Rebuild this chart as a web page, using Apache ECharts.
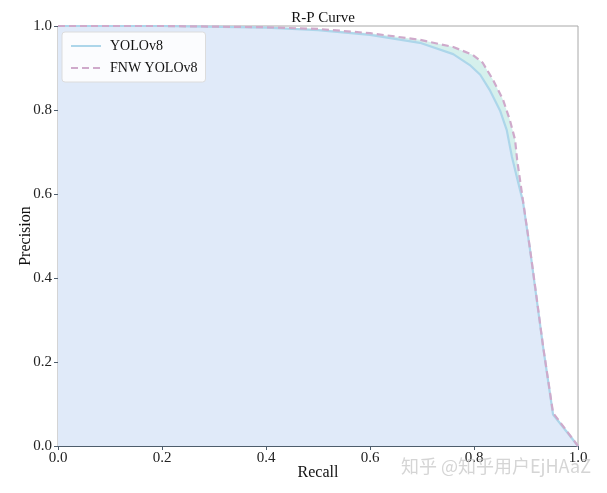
<!DOCTYPE html>
<html>
<head>
<meta charset="utf-8">
<title>R-P Curve</title>
<script src="https://cdn.jsdelivr.net/npm/echarts@6/dist/echarts.min.js"></script>
<style>
	html, body { margin: 0; padding: 0; background: #fff; }
	#chart { width: 607px; height: 493px; }
</style>
</head>
<body>
<div id="chart"></div>
<script>
	// values
	var yoloRecall = [0, 0.2, 0.4, 0.5, 0.6, 0.696, 0.76, 0.792, 0.812, 0.831, 0.85, 0.863, 0.873, 0.884, 0.894, 0.908, 0.921, 0.933, 0.952, 1.0]
	var yoloPrecision = [1, 1, 0.996, 0.99, 0.979, 0.96, 0.933, 0.907, 0.884, 0.846, 0.799, 0.752, 0.688, 0.632, 0.583, 0.465, 0.345, 0.235, 0.075, 0]
	var fnwRecall = [0, 0.2, 0.4, 0.5, 0.6, 0.696, 0.76, 0.798, 0.817, 0.837, 0.856, 0.869, 0.879, 0.883, 0.894, 0.908, 0.921, 0.933, 0.952, 1.0]
	var fnwPrecision = [1, 1, 0.997, 0.993, 0.983, 0.967, 0.95, 0.931, 0.912, 0.871, 0.824, 0.776, 0.729, 0.681, 0.586, 0.467, 0.348, 0.236, 0.079, 0]
	var tickLabels = ['0.0', '0.2', '0.4', '0.6', '0.8', '1.0']

	var serif = 'Liberation Serif'

	function pairs(xs, ys) {
		return xs.map(function (x, i) { return [x, ys[i]] })
	}

	var chart = echarts.init(document.getElementById('chart'))
	chart.setOption({
		animation: false,
		backgroundColor: '#fff',
		title: {
			text: 'R-P Curve',
			left: 318,
			textAlign: 'center',
			top: 6,
			textStyle: { fontFamily: serif, fontSize: 15, fontWeight: 'normal', color: '#111' }
		},
		legend: {
			data: ['YOLOv8', 'FNW YOLOv8'],
			orient: 'vertical',
			left: 62,
			top: 32,
			backgroundColor: 'rgba(255,255,255,0.85)',
			borderColor: '#dcdcdc',
			borderWidth: 1,
			borderRadius: 3,
			padding: [7, 8, 7, 8],
			itemWidth: 30,
			itemHeight: 10,
			itemGap: 8,
			itemStyle: { opacity: 0 },
			textStyle: { fontFamily: serif, fontSize: 14, color: '#111', padding: [0, 0, 0, 4] }
		},
		grid: {
			left: 58,
			right: 29,
			top: 26,
			bottom: 47,
			show: true,
			borderColor: '#a8a8a8',
			borderWidth: 1
		},
		xAxis: {
			type: 'value',
			min: 0,
			max: 1,
			interval: 0.2,
			name: 'Recall',
			nameLocation: 'middle',
			nameGap: 19,
			nameMoveOverlap: false,
			nameTextStyle: { fontFamily: serif, fontSize: 16, color: '#111' },
			axisLine: { lineStyle: { color: '#4e5d6c', width: 1 } },
			axisTick: { show: true, length: 4, lineStyle: { color: '#4e5d6c' } },
			axisLabel: {
				fontFamily: serif, fontSize: 15, color: '#222', margin: 5,
				formatter: function (v) { return tickLabels[Math.round(v * 5)] }
			},
			splitLine: { show: false }
		},
		yAxis: {
			type: 'value',
			min: 0,
			max: 1,
			interval: 0.2,
			name: 'Precision',
			nameLocation: 'middle',
			nameGap: 24,
			nameMoveOverlap: false,
			nameTextStyle: { fontFamily: serif, fontSize: 16, color: '#111' },
			axisLine: { show: true, lineStyle: { color: '#4e5d6c', width: 1 } },
			axisTick: { show: true, length: 4, lineStyle: { color: '#4e5d6c' } },
			axisLabel: {
				fontFamily: serif, fontSize: 15, color: '#222', margin: 6,
				formatter: function (v) { return tickLabels[Math.round(v * 5)] }
			},
			splitLine: { show: false }
		},
		graphic: [{
			type: 'text',
			right: 16,
			bottom: 18,
			z: 100,
			style: {
				text: '知乎 @知乎用户EjHAaZ',
				font: '18px "Noto Sans CJK SC"',
				fill: 'rgba(195,195,195,0.7)'
			}
		}],
		series: [
			{
				name: 'fnwArea',
				type: 'line',
				data: pairs(fnwRecall, fnwPrecision),
				symbol: 'none',
				lineStyle: { width: 0 },
				areaStyle: { color: '#d5f0ec', opacity: 1 },
				z: 1,
				silent: true
			},
			{
				name: 'yoloArea',
				type: 'line',
				data: pairs(yoloRecall, yoloPrecision),
				symbol: 'none',
				lineStyle: { width: 0 },
				areaStyle: { color: '#e0eaf9', opacity: 1 },
				z: 2,
				silent: true
			},
			{
				name: 'YOLOv8',
				type: 'line',
				data: pairs(yoloRecall, yoloPrecision),
				symbol: 'none',
				itemStyle: { color: '#add6ea' },
				lineStyle: { color: '#add6ea', width: 2.2 },
				z: 3
			},
			{
				name: 'FNW YOLOv8',
				type: 'line',
				data: pairs(fnwRecall, fnwPrecision),
				symbol: 'none',
				itemStyle: { color: '#cfaacb' },
				lineStyle: { color: '#cfaacb', width: 2.2, type: [7, 4] },
				z: 4
			}
		]
	})
</script>
</body>
</html>
